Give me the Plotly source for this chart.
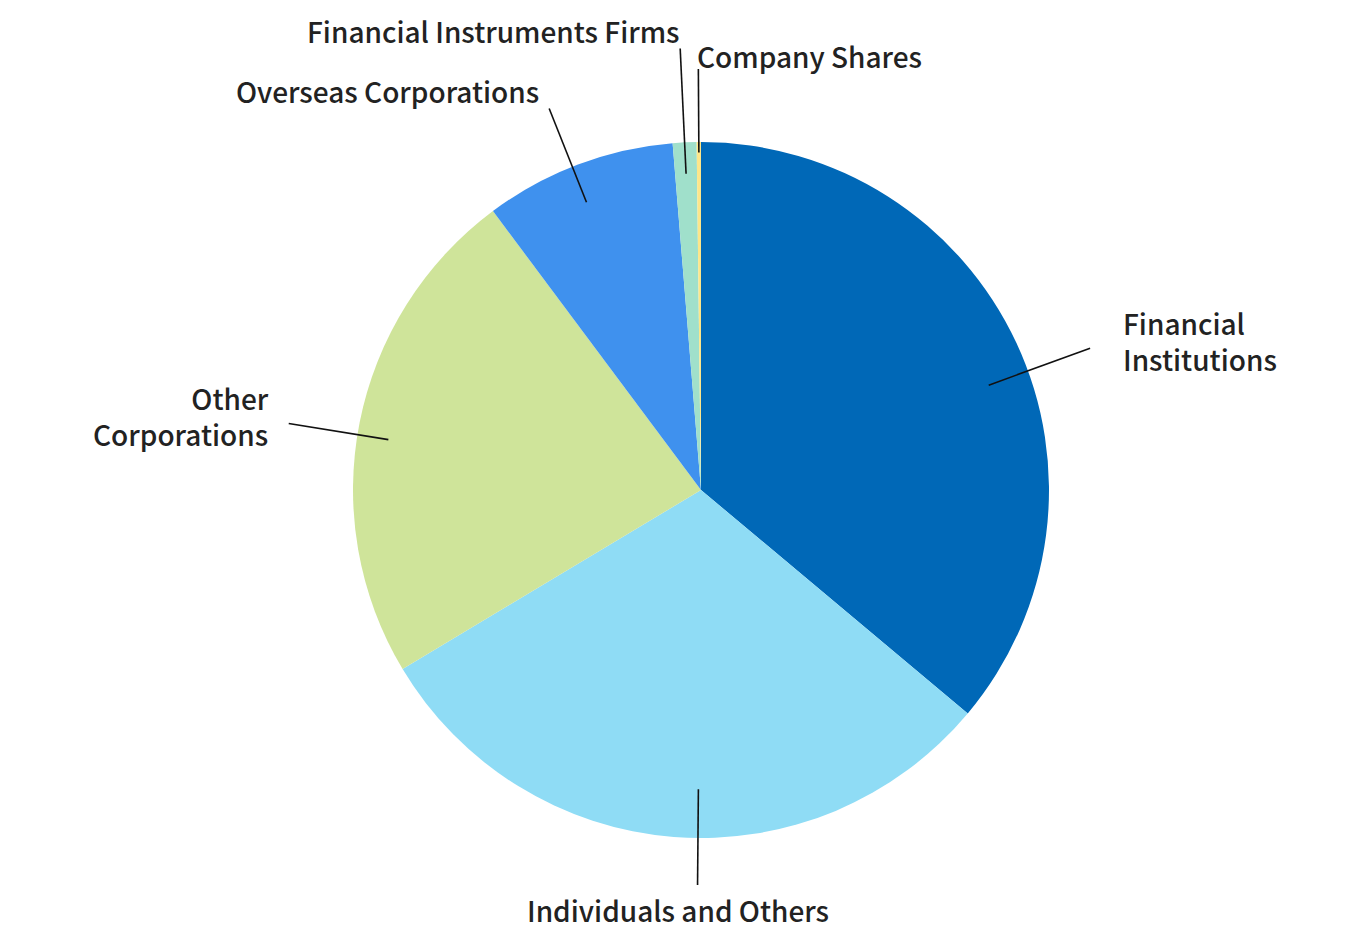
import math
import plotly.graph_objects as go

# ---- data ----
categories = ["Financial Institutions", "Individuals and Others", "Other Corporations",
              "Overseas Corporations", "Financial Instruments Firms", "Company Shares"]
shares = [36.1, 30.3, 23.4, 8.9, 1.1, 0.2]
colors = ["#0068B7", "#8FDCF5", "#CFE49A", "#3F91EE", "#A0E0CB", "#FDE68A"]
label_texts = ["Financial<br>Institutions", "Individuals and Others",
               "Other<br>Corporations", "Overseas Corporations",
               "Financial Instruments Firms", "Company Shares"]

# ---- layout / label placement style (not data) ----
W, H = 1371, 951
CX, CY, R = 701, 490, 348
# angle nudge (deg), leader start/end radius factor, text offset dx, dy, anchor
label_style = [
    (5, 0.88, 1.19, 31, -7, "left"),
    (-4, 0.86, 1.135, -20, 25, "center"),
    (-2, 0.91, 1.20, -18, -7.5, "right"),
    (-1, 0.89, 1.18, -8, -17, "right"),
    (0, 0.91, 1.27, 2, -18, "right"),
    (0, 0.97, 1.21, -3, -13, "left"),
]
FONT = dict(family="Noto Sans CJK JP", size=28, color="#222222", weight=500)


def px(x):
    return x / W


def py(y):
    return 1 - y / H


fig = go.Figure(go.Pie(
    labels=categories, values=shares, sort=False, direction="clockwise", rotation=0,
    marker=dict(colors=colors, line=dict(width=0)), textinfo="none", hoverinfo="label+percent",
    domain=dict(x=[px(CX - R), px(CX + R)], y=[py(CY + R), py(CY - R)]),
    showlegend=False,
))

total = sum(shares)
cum = 0.0
shapes, annotations = [], []
for val, text, st in zip(shares, label_texts, label_style):
    nudge, r0, r1, tdx, tdy, anchor = st
    mid = (cum + val / 2) / total * 360 + nudge
    cum += val
    a = math.radians(mid)
    x0, y0 = CX + r0 * R * math.sin(a), CY - r0 * R * math.cos(a)
    x1, y1 = CX + r1 * R * math.sin(a), CY - r1 * R * math.cos(a)
    shapes.append(dict(type="line", xref="paper", yref="paper",
                       x0=px(x0), y0=py(y0), x1=px(x1), y1=py(y1),
                       line=dict(color="#111111", width=1.6)))
    annotations.append(dict(text=text, x=px(x1 + tdx), y=py(y1 + tdy),
                            xref="paper", yref="paper",
                            xanchor=anchor, yanchor="middle", showarrow=False,
                            font=FONT, align=anchor))

fig.update_layout(width=W, height=H, margin=dict(l=0, r=0, t=0, b=0),
                  paper_bgcolor="white", plot_bgcolor="white",
                  shapes=shapes, annotations=annotations)
fig.write_html("out.html")
